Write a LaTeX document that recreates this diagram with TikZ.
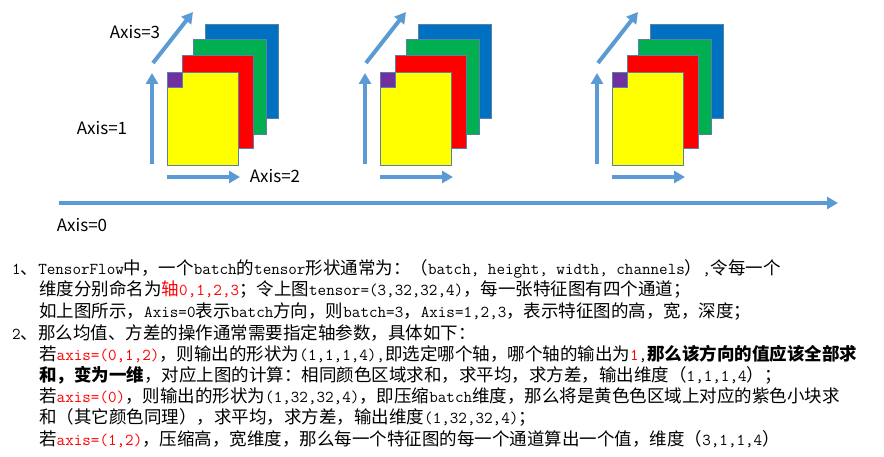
\documentclass[tikz,border=0pt]{standalone}
\usepackage{fontspec}
\usepackage{xcolor}
\usepackage{tikz}
\usetikzlibrary{arrows.meta}

\newfontfamily\zhfont{Noto Sans CJK SC}
\newfontfamily\enfont[Scale=0.95]{Latin Modern Mono}
\newfontfamily\axisfont{Noto Sans CJK SC}

% CJK characters get \zhfont, everything else \enfont
\XeTeXinterchartokenstate=1
\newXeTeXintercharclass\zhclass
\newXeTeXintercharclass\enclass
\newcount\charidx
\newcommand\setclassrange[3]{%
  \charidx=#1\relax
  \loop\ifnum\charidx<#2\relax
    \XeTeXcharclass\charidx=#3\relax
    \advance\charidx by 1
  \repeat}
\setclassrange{"3000}{"3040}{\zhclass}
\setclassrange{"4E00}{"A000}{\zhclass}
\setclassrange{"FF00}{"FFF0}{\zhclass}
\setclassrange{"21}{"7F}{\enclass}
\XeTeXinterchartoks\enclass\zhclass={\zhfont}
\XeTeXinterchartoks 4095 \zhclass={\zhfont}
\XeTeXinterchartoks\zhclass\zhclass={\zhfont}
\XeTeXinterchartoks\zhclass\enclass={\enfont}
\XeTeXinterchartoks\zhclass 4095={\enfont}

\definecolor{axisblue}{HTML}{5B9BD5}
\definecolor{sheetedge}{HTML}{5A7FA8}
\definecolor{sheetyellow}{HTML}{FFFF00}
\definecolor{sheetred}{HTML}{FF0000}
\definecolor{sheetgreen}{HTML}{00B050}
\definecolor{sheetblue}{HTML}{0070C0}
\definecolor{sheetpurple}{HTML}{7030A0}

\tikzset{
  axisarrow/.style={draw=axisblue, line width=4pt, -{Triangle[width=12pt,length=11pt]}},
  sheet/.style={draw=sheetedge, line width=0.9pt, anchor=north west, inner sep=0pt},
  axislabel/.style={font=\axisfont\fontsize{17}{17}\selectfont, inner sep=0pt},
  textline/.style={font=\fontsize{17.5}{21}\selectfont\enfont, anchor=base west, inner sep=0pt},
}

\begin{document}
\begin{tikzpicture}[x=1pt, y=-1pt]
  \useasboundingbox (0,0) rectangle (884,457);

  % three feature-map stacks (batch = 3)
  \foreach \s/\x in {1/167, 2/380, 3/612} {
    \node[sheet, fill=sheetblue, minimum width=73pt, minimum height=94pt] (blue\s) at (\x+38, 24) {};
    \node[sheet, fill=sheetgreen, minimum width=73pt, minimum height=95pt] (green\s) at (\x+26, 39) {};
    \node[sheet, fill=sheetred, minimum width=71pt, minimum height=93pt] (red\s) at (\x+15, 55) {};
    \node[sheet, fill=sheetyellow, minimum width=71pt, minimum height=93pt] (yellow\s) at (\x, 72) {};
    \node[sheet, fill=sheetpurple, minimum width=15pt, minimum height=15pt] (purple\s) at (\x, 72) {};
    \coordinate (up\s-a) at (\x-15, 164);
    \coordinate (up\s-b) at (\x-15, 73);
    \coordinate (dg\s-a) at (\x-14, 63);
    \coordinate (dg\s-b) at (\x+26, 12);
    \coordinate (hz\s-a) at (\x, 177);
    \coordinate (hz\s-b) at (\x+73, 177);
    \draw[axisarrow] (up\s-a) -- (up\s-b);
    \draw[axisarrow] (dg\s-a) -- (dg\s-b);
    \draw[axisarrow] (hz\s-a) -- (hz\s-b);
  }

  % batch axis
  \coordinate (b0) at (59, 203);
  \coordinate (b1) at (838, 203);
  \draw[axisarrow, line width=3.5pt] (b0) -- (b1);

  \node[axislabel] (ax3) at (135, 32) {Axis=3};
  \node[axislabel] (ax1) at (102, 128) {Axis=1};
  \node[axislabel] (ax2) at (275, 176) {Axis=2};
  \node[axislabel] (ax0) at (82, 225) {Axis=0};

  % explanation text
  \node[textline] (l1) at (12, 275) {1、TensorFlow中，一个batch的tensor形状通常为：（batch, height, width, channels）,令每一个};
  \node[textline] (l2) at (39, 296) {维度分别命名为\textcolor{red}{轴0,1,2,3}；令上图tensor=(3,32,32,4)，每一张特征图有四个通道；};
  \node[textline] (l3) at (39, 317.5) {如上图所示，Axis=0表示batch方向，则batch=3，Axis=1,2,3，表示特征图的高，宽，深度；};
  \node[textline] (l4) at (12, 339) {2、那么均值、方差的操作通常需要指定轴参数，具体如下：};
  \node[textline] (l5) at (39, 360) {若\textcolor{red}{axis=(0,1,2)}，则输出的形状为(1,1,1,4),即选定哪个轴，哪个轴的输出为\textcolor{red}{1}\textbf{,那么该方向的值应该全部求}};
  \node[textline] (l6) at (39, 381) {\textbf{和，变为一维}，对应上图的计算：相同颜色区域求和，求平均，求方差，输出维度（1,1,1,4）；};
  \node[textline] (l7) at (39, 402) {若\textcolor{red}{axis=(0)}，则输出的形状为(1,32,32,4)，即压缩batch维度，那么将是黄色色区域上对应的紫色小块求};
  \node[textline] (l8) at (39, 423.5) {和（其它颜色同理），求平均，求方差，输出维度(1,32,32,4)；};
  \node[textline] (l9) at (39, 445) {若\textcolor{red}{axis=(1,2)}，压缩高，宽维度，那么每一个特征图的每一个通道算出一个值，维度（3,1,1,4）};
\end{tikzpicture}
\end{document}
